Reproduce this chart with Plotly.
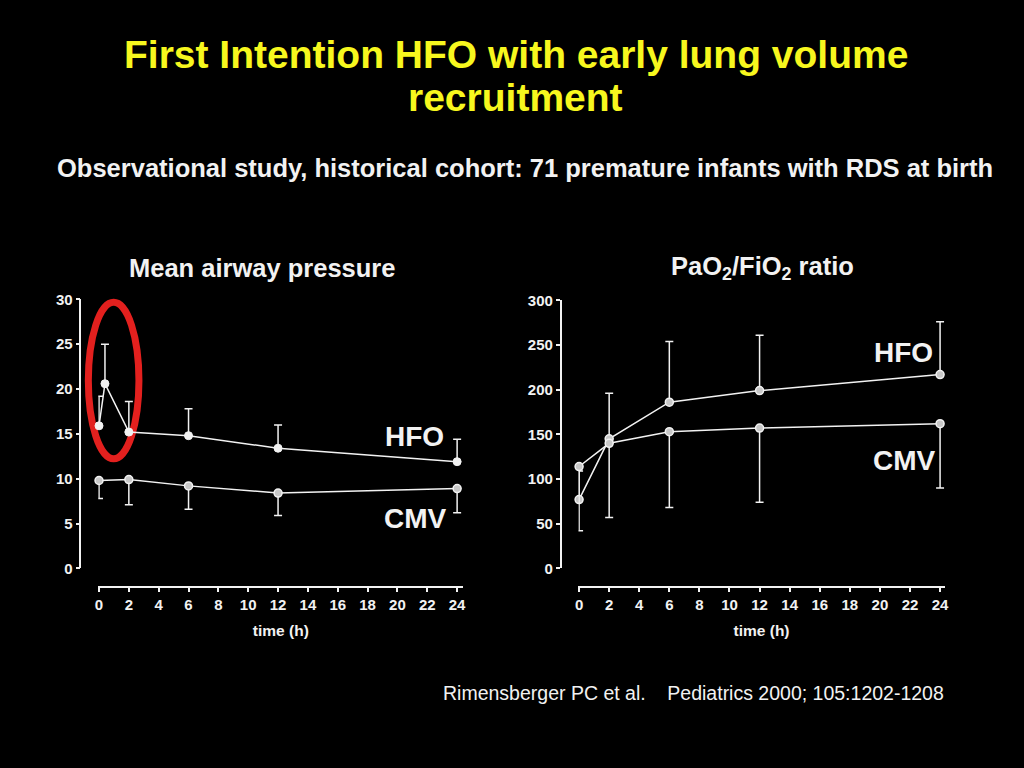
import plotly.graph_objects as go

# --- Data ---
# Mean airway pressure (cmH2O)
map_hfo_hours = [0, 0.4, 2, 6, 12, 24]
map_hfo = [15.9, 20.6, 15.2, 14.8, 13.4, 11.9]
map_hfo_sd = [3.3, 4.4, 3.4, 3.0, 2.6, 2.5]
map_cmv_hours = [0, 2, 6, 12, 24]
map_cmv = [9.8, 9.9, 9.2, 8.4, 8.9]
map_cmv_sd = [2.0, 2.8, 2.6, 2.5, 2.7]

# PaO2/FiO2 ratio
pf_hours = [0, 2, 6, 12, 24]
pf_hfo = [77, 145, 186, 199, 217]
pf_hfo_sd = [32, 51, 68, 62, 59]
pf_cmv = [114, 140, 153, 157, 162]
pf_cmv_sd = [72, 83, 85, 83, 72]

x_ticks = list(range(0, 25, 2))
map_ticks = [0, 5, 10, 15, 20, 25, 30]
pf_ticks = [0, 50, 100, 150, 200, 250, 300]

W, H = 1024, 768
FONT = "Liberation Sans, Arial, sans-serif"
WHITE = "#f2f2f2"


def px_x(p):
    return p / W


def px_y(p):
    return 1 - p / H


def zeros(n):
    return [0] * n


fig = go.Figure()

ring = dict(size=8, color="#c8c8c8", line=dict(color=WHITE, width=1.5))
dot = dict(size=8, color=WHITE, line=dict(color=WHITE, width=1))

# --- Left panel: mean airway pressure ---
fig.add_trace(go.Scatter(
    x=map_hfo_hours, y=map_hfo, mode="lines+markers", name="HFO",
    line=dict(color=WHITE, width=1.5), marker=dot, cliponaxis=False,
    error_y=dict(type="data", symmetric=False, array=map_hfo_sd,
                 arrayminus=zeros(len(map_hfo)), color=WHITE, thickness=1.5, width=4),
    xaxis="x", yaxis="y",
))
fig.add_trace(go.Scatter(
    x=map_cmv_hours, y=map_cmv, mode="lines+markers", name="CMV",
    line=dict(color=WHITE, width=1.5), marker=ring, cliponaxis=False,
    error_y=dict(type="data", symmetric=False, array=zeros(len(map_cmv)),
                 arrayminus=map_cmv_sd, color=WHITE, thickness=1.5, width=4),
    xaxis="x", yaxis="y",
))

# --- Right panel: PaO2/FiO2 ---
fig.add_trace(go.Scatter(
    x=pf_hours, y=pf_hfo, mode="lines+markers", name="HFO",
    line=dict(color=WHITE, width=1.5), marker=ring, cliponaxis=False,
    error_y=dict(type="data", symmetric=False, array=pf_hfo_sd,
                 arrayminus=zeros(len(pf_hfo)), color=WHITE, thickness=1.5, width=4),
    xaxis="x2", yaxis="y2",
))
fig.add_trace(go.Scatter(
    x=pf_hours, y=pf_cmv, mode="lines+markers", name="CMV",
    line=dict(color=WHITE, width=1.5), marker=ring, cliponaxis=False,
    error_y=dict(type="data", symmetric=False, array=zeros(len(pf_cmv)),
                 arrayminus=pf_cmv_sd, color=WHITE, thickness=1.5, width=4),
    xaxis="x2", yaxis="y2",
))

tickfont = dict(family=FONT, size=15, color=WHITE, weight="bold")
axis_common = dict(
    showline=True, linecolor=WHITE, linewidth=1.5,
    ticks="outside", tickcolor=WHITE, tickwidth=1.5, ticklen=4,
    showgrid=False, zeroline=False, tickfont=tickfont, anchor="free",
)
xtitle = dict(text="time (h)", font=dict(family=FONT, size=15.5, color=WHITE, weight="bold"),
              standoff=12)

fig.update_layout(
    width=W, height=H,
    margin=dict(l=0, r=0, t=0, b=0),
    paper_bgcolor="black",
    plot_bgcolor="rgba(0,0,0,0)",
    showlegend=False,
    hovermode=False,
    xaxis=dict(axis_common, domain=[px_x(95), px_x(463)], range=[-0.05, 24.42],
               tickvals=x_ticks, position=px_y(591), title=xtitle),
    yaxis=dict(axis_common, domain=[px_y(572), px_y(297)], range=[0, 30],
               tickvals=map_ticks, position=px_x(77)),
    xaxis2=dict(axis_common, domain=[px_x(579), px_x(948)], range=[-0.04, 24.3],
                tickvals=x_ticks, position=px_y(591), title=xtitle),
    yaxis2=dict(axis_common, domain=[px_y(572), px_y(298)], range=[0, 300],
                tickvals=pf_ticks, position=px_x(561)),
)

# red ellipse around the early HFO peak
fig.add_shape(type="circle", xref="paper", yref="paper", layer="below",
              x0=px_x(85), x1=px_x(136), y0=px_y(460), y1=px_y(300),
              line=dict(color="#e3201e", width=7))


def label(text, x, y, size, color=WHITE, bold=True):
    fig.add_annotation(
        text=text, x=px_x(x), y=px_y(y), xref="paper", yref="paper",
        xanchor="center", yanchor="middle", showarrow=False,
        font=dict(family=FONT, size=size, color=color, weight="bold" if bold else "normal"),
    )


label("First Intention HFO with early lung volume", 516, 47, 39, color="#f7f71e")
label("recruitment", 516, 90, 39, color="#f7f71e")
label("Observational study, historical cohort: 71 premature infants with RDS at birth",
      525, 163, 25.5)
label("Mean airway pressure", 260, 265, 25.5)
label("PaO<sub>2</sub>/FiO<sub>2</sub> ratio", 764, 265, 25.5)
label("HFO", 414, 437, 28)
label("CMV", 415, 521, 28)
label("HFO", 907, 351, 28)
label("CMV", 908, 462, 28)
label("Rimensberger PC et al.\u00a0\u00a0\u00a0 Pediatrics 2000; 105:1202-1208", 695, 699, 19.5,
      bold=False)

# the page body has a default 8px margin; drop it so the figure fills the window
fig.write_html("out.html",
               config={"displayModeBar": False},
               post_script="document.body.style.margin='0';"
                           "document.body.style.background='black';")
